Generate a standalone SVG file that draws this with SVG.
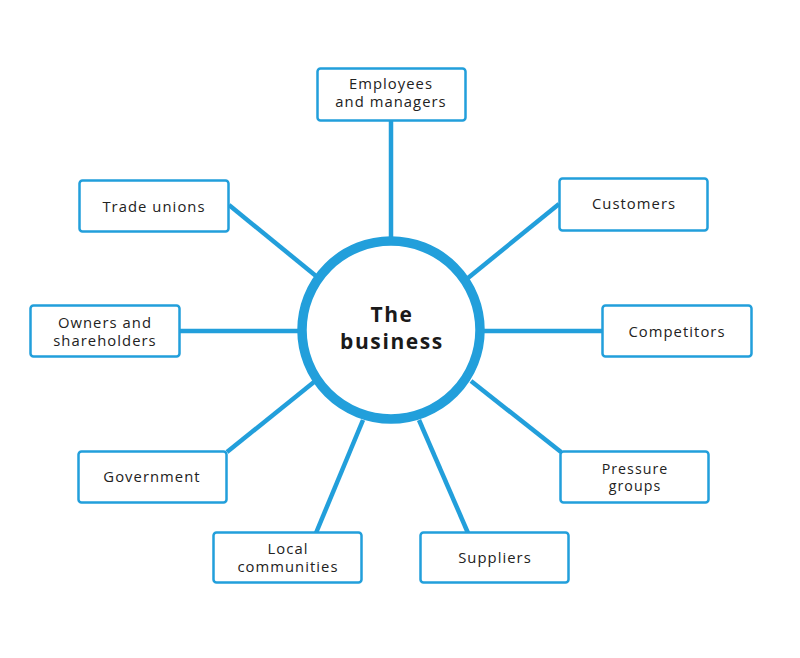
<svg xmlns="http://www.w3.org/2000/svg" width="800" height="658" viewBox="0 0 800 658">
<style>
.box{fill:#fff;stroke:#229fdb;stroke-width:2.5}
.ln{stroke:#229fdb;stroke-width:4.5;stroke-linecap:butt;fill:none}
.t{font-family:"Open Sans","Liberation Sans",sans-serif;font-size:14.8px;fill:#222;text-anchor:middle;letter-spacing:1.05px}
.p{font-size:14.2px}
.c{font-family:"Open Sans","Liberation Sans",sans-serif;font-size:21px;font-weight:bold;fill:#1a1a1a;text-anchor:middle;letter-spacing:1.6px}
</style>
<rect width="800" height="658" fill="#fff"/>
<g id="connectors">
<line class="ln" x1="391" y1="121" x2="391" y2="240"/>
<line class="ln" x1="229" y1="205" x2="316" y2="276"/>
<line class="ln" x1="559" y1="204" x2="468" y2="278"/>
<line class="ln" x1="180" y1="331" x2="300" y2="331"/>
<line class="ln" x1="482" y1="331" x2="603" y2="331"/>
<line class="ln" x1="227" y1="452" x2="314" y2="382"/>
<line class="ln" x1="561" y1="452" x2="471" y2="381"/>
<line class="ln" x1="316" y1="533" x2="363" y2="420"/>
<line class="ln" x1="468" y1="533" x2="419" y2="420"/>
</g>
<g id="center">
<circle cx="391" cy="330" r="89" fill="#fff" stroke="#229fdb" stroke-width="9.5"/>
<text class="c" x="392" y="321.5">The</text>
<text class="c" x="392" y="348.5">business</text>
</g>
<g id="employees">
<rect class="box" x="317.5" y="68.5" width="148" height="52" rx="3"/>
<text class="t" x="391" y="88.5">Employees</text>
<text class="t" x="391" y="107">and managers</text>
</g>
<g id="trade-unions">
<rect class="box" x="79.5" y="180.5" width="149" height="51" rx="3"/>
<text class="t" x="154" y="212">Trade unions</text>
</g>
<g id="customers">
<rect class="box" x="559.5" y="178.5" width="148" height="52" rx="3"/>
<text class="t" x="634" y="209">Customers</text>
</g>
<g id="owners">
<rect class="box" x="30.5" y="305.5" width="149" height="51" rx="3"/>
<text class="t" x="105" y="327.5">Owners and</text>
<text class="t" x="105" y="346">shareholders</text>
</g>
<g id="competitors">
<rect class="box" x="602.5" y="305.5" width="149" height="51" rx="3"/>
<text class="t" x="677" y="337">Competitors</text>
</g>
<g id="government">
<rect class="box" x="78.5" y="451.5" width="148" height="51" rx="3"/>
<text class="t" x="152" y="482">Government</text>
</g>
<g id="pressure-groups">
<rect class="box" x="560.5" y="451.5" width="148" height="51" rx="3"/>
<text class="t p" x="635" y="473.5">Pressure</text>
<text class="t p" x="635" y="491">groups</text>
</g>
<g id="local-communities">
<rect class="box" x="213.5" y="532.5" width="148" height="50" rx="3"/>
<text class="t" x="288" y="553.5">Local</text>
<text class="t" x="288" y="572">communities</text>
</g>
<g id="suppliers">
<rect class="box" x="420.5" y="532.5" width="148" height="50" rx="3"/>
<text class="t" x="495" y="563">Suppliers</text>
</g>
</svg>
